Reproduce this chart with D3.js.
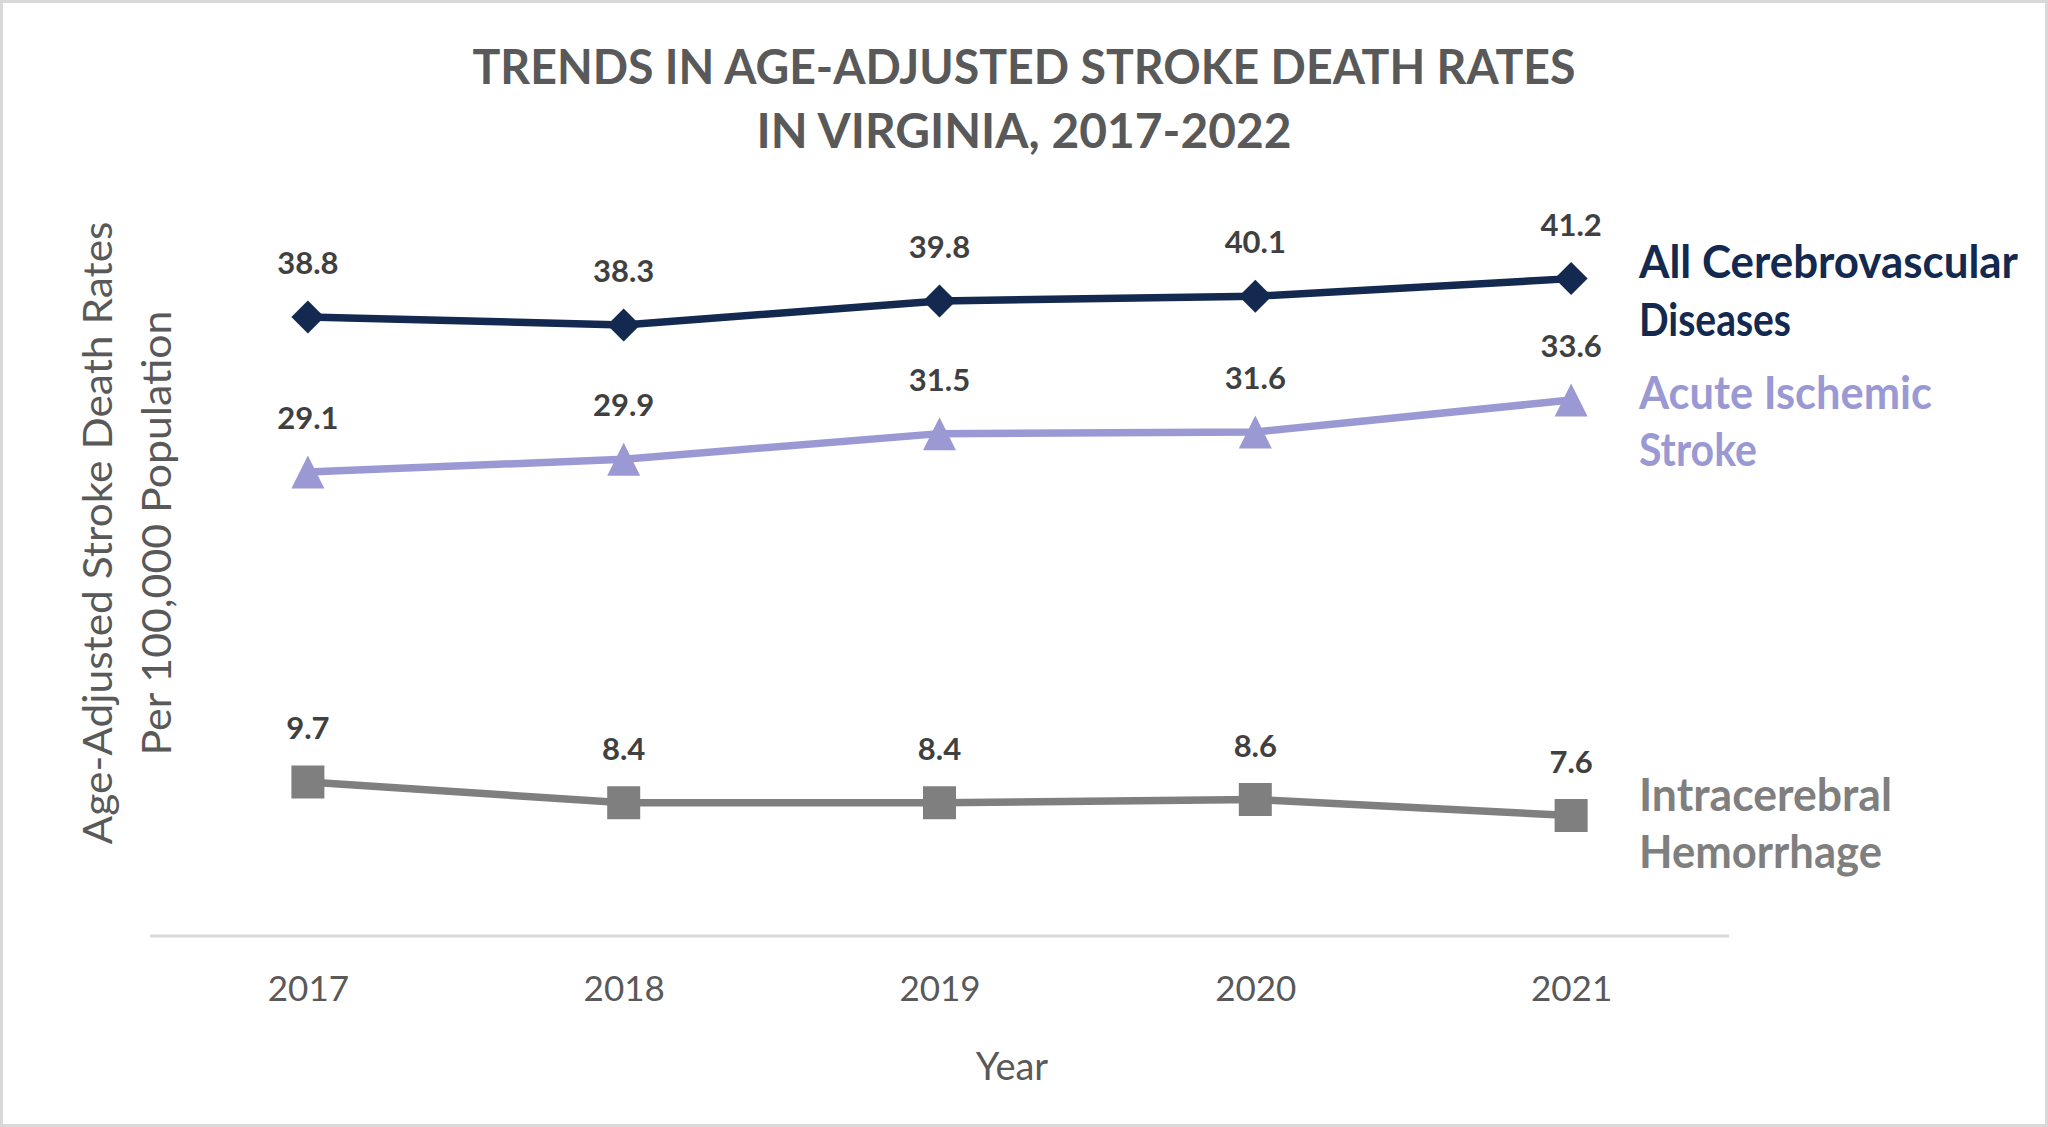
<!DOCTYPE html>
<html>
    <head>
        <meta charset="utf-8">
        <title>Stroke death rates</title>
        <style>
            body { margin: 0; background: #fff; }
            svg { display: block; font-family: Lato, "Open Sans", sans-serif; }
        </style>
    </head>
    <body>
        <svg width="2048" height="1127"></svg>

        <script src="https://d3js.org/d3.v7.min.js"></script>
        <script>
            var years = ["2017", "2018", "2019", "2020", "2021"];
            var allCerebro = [38.8, 38.3, 39.8, 40.1, 41.2];
            var acuteIschemic = [29.1, 29.9, 31.5, 31.6, 33.6];
            var intracerebral = [9.7, 8.4, 8.4, 8.6, 7.6];
            var seriesNames = [["All Cerebrovascular", "Diseases"], ["Acute Ischemic", "Stroke"], ["Intracerebral", "Hemorrhage"]];
            var seriesColors = ["#13294f", "#9b99d4", "#7f7f7f"];

            // marker shapes, r = half width in px
            var diamond = { draw: function(c, r) { c.moveTo(0, -r); c.lineTo(r, 0); c.lineTo(0, r); c.lineTo(-r, 0); c.closePath(); } };
            var triangle = { draw: function(c, r) { c.moveTo(0, -r); c.lineTo(r, r); c.lineTo(-r, r); c.closePath(); } };
            var square = { draw: function(c, r) { c.rect(-r, -r, 2 * r, 2 * r); } };

            var series = [
                { name: seriesNames[0], values: allCerebro, color: seriesColors[0], symbol: diamond, size: 16.5 },
                { name: seriesNames[1], values: acuteIschemic, color: seriesColors[1], symbol: triangle, size: 16.5 },
                { name: seriesNames[2], values: intracerebral, color: seriesColors[2], symbol: square, size: 16.5 }
            ];

            var svg = d3.select("svg");

            // outer frame
            svg.append("rect")
                .attr("x", 1.5).attr("y", 1.5)
                .attr("width", 2045).attr("height", 1124)
                .attr("fill", "none")
                .attr("stroke", "#d9d9d9")
                .attr("stroke-width", 3);

            var x = d3.scalePoint()
                .domain(years)
                .range([150, 1729])
                .padding(0.5);

            var y = d3.scaleLinear()
                .domain([0, 50])
                .range([937, 937 - 50 * 15.98]);

            // title
            var title = svg.append("text")
                .attr("text-anchor", "middle")
                .attr("fill", "#595959")
                .attr("font-weight", 700)
                .attr("font-size", 48);
            title.append("tspan").attr("x", 1024).attr("y", 84)
                .attr("textLength", 1103).attr("lengthAdjust", "spacingAndGlyphs")
                .text("TRENDS IN AGE-ADJUSTED STROKE DEATH RATES");
            title.append("tspan").attr("x", 1024).attr("y", 148)
                .attr("textLength", 535).attr("lengthAdjust", "spacingAndGlyphs")
                .text("IN VIRGINIA, 2017-2022");

            // x axis
            var xAxis = svg.append("g")
                .attr("transform", "translate(0,936)")
                .call(d3.axisBottom(x).tickSize(0).tickPadding(40));
            xAxis.select(".domain")
                .attr("d", "M150,0H1729")
                .attr("stroke", "#d9d9d9")
                .attr("stroke-width", 3);
            xAxis.selectAll("text")
                .attr("fill", "#595959")
                .attr("font-size", 35)
                .attr("font-family", "Lato, 'Open Sans', sans-serif")
                .attr("dy", "0.71em");

            svg.append("text")
                .attr("x", 1012).attr("y", 1080)
                .attr("text-anchor", "middle")
                .attr("fill", "#595959")
                .attr("font-size", 38)
                .text("Year");

            // y axis title
            var yTitle = svg.append("text")
                .attr("transform", "translate(0,533) rotate(-90)")
                .attr("text-anchor", "middle")
                .attr("fill", "#595959")
                .attr("font-size", 40);
            yTitle.append("tspan").attr("x", 0).attr("y", 112)
                .attr("textLength", 623).attr("lengthAdjust", "spacingAndGlyphs")
                .text("Age-Adjusted Stroke Death Rates");
            yTitle.append("tspan").attr("x", 0).attr("y", 171)
                .attr("textLength", 445).attr("lengthAdjust", "spacingAndGlyphs")
                .text("Per 100,000 Population");

            var line = d3.line()
                .x(function(d, i) { return x(years[i]); })
                .y(function(d) { return y(d); });

            var g = svg.selectAll(".series")
                .data(series)
                .enter()
                .append("g")
                .attr("class", "series");

            g.append("path")
                .attr("d", function(d) { return line(d.values); })
                .attr("fill", "none")
                .attr("stroke", function(d) { return d.color; })
                .attr("stroke-width", 7.5);

            g.each(function(s) {
                var sg = d3.select(this);
                var sym = d3.symbol().type(s.symbol).size(s.size);
                sg.selectAll(".pt")
                    .data(s.values)
                    .enter()
                    .append("path")
                    .attr("class", "pt")
                    .attr("transform", function(d, i) {
                        return "translate(" + x(years[i]) + "," + y(d) + ")";
                    })
                    .attr("d", sym)
                    .attr("fill", s.color);

                sg.selectAll(".lbl")
                    .data(s.values)
                    .enter()
                    .append("text")
                    .attr("class", "lbl")
                    .attr("x", function(d, i) { return x(years[i]); })
                    .attr("y", function(d) { return y(d) - 43; })
                    .attr("text-anchor", "middle")
                    .attr("fill", "#404040")
                    .attr("font-weight", 700)
                    .attr("font-size", 31)
                    .text(function(d) { return d.toFixed(1); });
            });

            // series names at the right
            var legendY = [[278, 336], [409, 466], [811, 868]];
            var legendW = [[379, 152], [293, 118], [253, 243]];
            series.forEach(function(s, k) {
                var t = svg.append("text")
                    .attr("fill", s.color)
                    .attr("font-weight", 700)
                    .attr("font-size", 45);
                s.name.forEach(function(n, j) {
                    t.append("tspan")
                        .attr("x", 1639)
                        .attr("y", legendY[k][j])
                        .attr("textLength", legendW[k][j])
                        .attr("lengthAdjust", "spacingAndGlyphs")
                        .text(n);
                });
            });
        </script>
    </body>
</html>
